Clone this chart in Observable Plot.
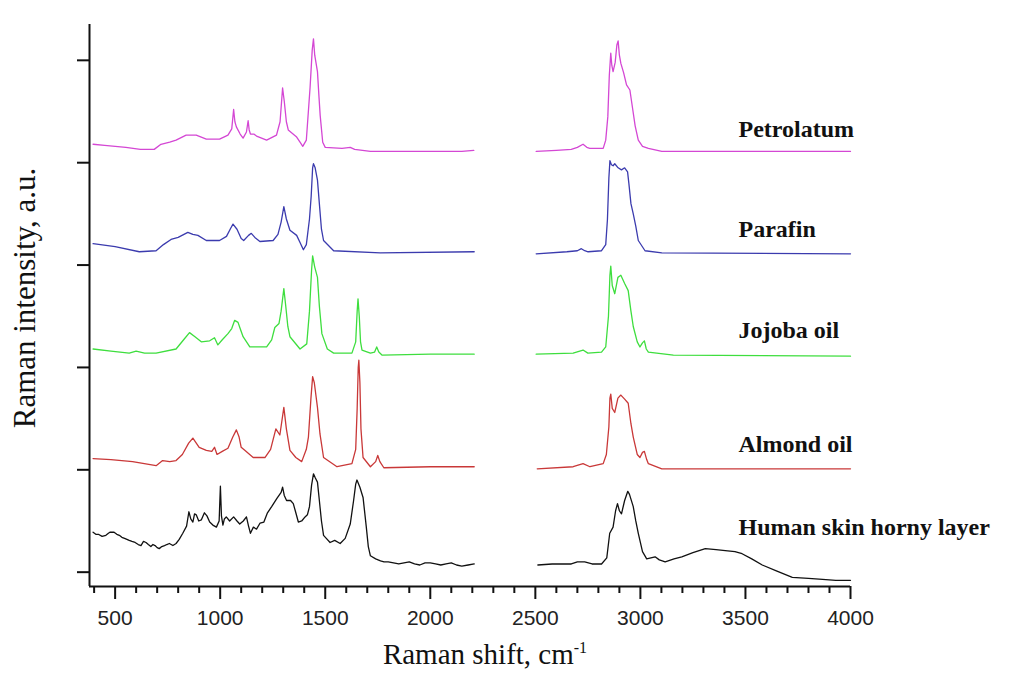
<!DOCTYPE html>
<html><head><meta charset="utf-8">
<script src="https://cdn.jsdelivr.net/npm/d3@7"></script>
<script src="https://cdn.jsdelivr.net/npm/@observablehq/plot@0.6"></script>
<style>body{margin:0;background:#fff}</style>
</head><body><div id="chart"></div>
<script>
// Raman shift (cm-1), intensity (a.u., stacked)
const petrolatum = [[395,4.18],[450,4.17],[551,4.15],[620,4.13],[686,4.13],[718,4.18],[760,4.20],[790,4.22],[838,4.27],[886,4.27],[910,4.25],[934,4.23],[997,4.23],[1037,4.27],[1055,4.33],[1064,4.52],[1070,4.40],[1077,4.35],[1095,4.28],[1109,4.24],[1125,4.30],[1133,4.41],[1138,4.32],[1144,4.28],[1160,4.28],[1173,4.26],[1221,4.22],[1268,4.27],[1285,4.40],[1297,4.73],[1305,4.60],[1315,4.40],[1324,4.32],[1364,4.25],[1380,4.20],[1393,4.16],[1410,4.22],[1428,4.74],[1438,5.10],[1444,5.21],[1450,5.05],[1463,4.89],[1470,4.65],[1476,4.46],[1488,4.20],[1500,4.15],[1580,4.14],[1619,4.15],[1640,4.13],[1715,4.11],[2112,4.11],[2150,4.11],[2207,4.12],
  [2504,4.11],[2600,4.12],[2671,4.13],[2700,4.15],[2727,4.18],[2745,4.15],[2759,4.14],[2823,4.14],[2835,4.22],[2845,4.45],[2852,4.85],[2859,5.07],[2864,4.95],[2870,4.89],[2880,4.98],[2888,5.15],[2894,5.19],[2900,5.05],[2907,4.97],[2920,4.88],[2934,4.76],[2950,4.71],[2965,4.50],[2975,4.36],[2990,4.22],[3010,4.16],[3038,4.14],[3102,4.11],[4000,4.11]];
const parafin = [[395,3.21],[500,3.18],[615,3.13],[695,3.14],[730,3.20],[766,3.25],[800,3.27],[846,3.32],[870,3.30],[894,3.29],[934,3.24],[997,3.24],[1030,3.28],[1050,3.36],[1061,3.40],[1080,3.35],[1100,3.26],[1112,3.24],[1135,3.29],[1148,3.31],[1165,3.27],[1189,3.23],[1252,3.24],[1275,3.30],[1290,3.42],[1303,3.57],[1315,3.45],[1332,3.34],[1364,3.29],[1380,3.22],[1396,3.15],[1410,3.20],[1425,3.45],[1433,3.67],[1440,3.95],[1444,3.99],[1452,3.95],[1463,3.83],[1472,3.60],[1482,3.35],[1492,3.24],[1540,3.14],[1762,3.12],[2209,3.13],
  [2504,3.11],[2650,3.13],[2700,3.14],[2719,3.16],[2735,3.14],[2751,3.13],[2815,3.14],[2835,3.20],[2843,3.44],[2850,3.85],[2855,4.02],[2862,3.98],[2870,3.97],[2878,3.99],[2894,3.95],[2910,3.93],[2925,3.95],[2939,3.91],[2945,3.80],[2955,3.60],[2966,3.50],[2978,3.38],[2990,3.24],[3022,3.14],[3102,3.12],[4000,3.11]];
const jojoba = [[395,2.18],[480,2.16],[567,2.14],[600,2.16],[640,2.14],[695,2.14],[790,2.18],[830,2.28],[854,2.34],[880,2.30],[910,2.25],[950,2.26],[973,2.29],[989,2.22],[1010,2.27],[1037,2.33],[1055,2.38],[1069,2.46],[1085,2.44],[1095,2.38],[1109,2.30],[1141,2.20],[1221,2.20],[1245,2.27],[1260,2.39],[1280,2.43],[1290,2.55],[1303,2.77],[1312,2.60],[1322,2.40],[1332,2.30],[1380,2.18],[1412,2.23],[1425,2.55],[1435,2.95],[1440,3.09],[1450,2.98],[1463,2.88],[1472,2.60],[1484,2.33],[1510,2.18],[1540,2.14],[1627,2.14],[1645,2.25],[1652,2.55],[1656,2.67],[1662,2.50],[1668,2.25],[1675,2.17],[1715,2.14],[1735,2.15],[1745,2.20],[1755,2.15],[1771,2.12],[2000,2.13],[2209,2.13],
  [2504,2.13],[2680,2.14],[2727,2.17],[2750,2.14],[2815,2.15],[2835,2.20],[2848,2.50],[2855,2.90],[2859,2.99],[2866,2.80],[2878,2.72],[2893,2.88],[2907,2.90],[2925,2.82],[2942,2.75],[2955,2.55],[2966,2.40],[2985,2.25],[2998,2.20],[3010,2.24],[3019,2.26],[3028,2.18],[3038,2.15],[3157,2.12],[4000,2.11]];
const almond = [[395,1.11],[480,1.10],[583,1.08],[695,1.04],[726,1.09],[760,1.08],[790,1.09],[820,1.15],[850,1.26],[870,1.31],[900,1.22],[934,1.19],[960,1.18],[973,1.22],[985,1.15],[1010,1.18],[1037,1.21],[1060,1.32],[1077,1.39],[1090,1.32],[1100,1.22],[1117,1.19],[1157,1.12],[1213,1.12],[1240,1.20],[1265,1.40],[1284,1.34],[1303,1.61],[1315,1.40],[1332,1.19],[1360,1.12],[1388,1.08],[1410,1.20],[1420,1.32],[1432,1.70],[1440,1.91],[1448,1.85],[1463,1.61],[1475,1.35],[1492,1.12],[1556,1.03],[1627,1.06],[1645,1.20],[1652,1.60],[1657,2.00],[1660,2.07],[1665,1.85],[1670,1.40],[1680,1.12],[1715,1.03],[1740,1.08],[1750,1.14],[1760,1.08],[1779,1.02],[2000,1.03],[2209,1.03],
  [2509,1.01],[2680,1.03],[2727,1.06],[2760,1.03],[2823,1.06],[2838,1.15],[2850,1.42],[2855,1.70],[2859,1.74],[2866,1.60],[2878,1.56],[2893,1.70],[2907,1.73],[2925,1.69],[2942,1.65],[2955,1.45],[2966,1.32],[2985,1.15],[2998,1.12],[3010,1.17],[3019,1.18],[3030,1.10],[3038,1.06],[3102,1.01],[4000,1.01]];
const humanSkin = [[395,0.39],[408,0.37],[420,0.37],[438,0.35],[456,0.36],[468,0.38],[475,0.39],[495,0.39],[508,0.37],[520,0.36],[532,0.34],[545,0.33],[556,0.32],[567,0.31],[580,0.30],[595,0.29],[610,0.27],[623,0.26],[635,0.30],[647,0.29],[658,0.27],[670,0.25],[680,0.27],[690,0.26],[700,0.24],[710,0.23],[722,0.25],[735,0.26],[746,0.27],[758,0.28],[775,0.26],[790,0.28],[805,0.32],[822,0.38],[840,0.45],[851,0.59],[860,0.52],[870,0.49],[878,0.57],[886,0.56],[898,0.50],[910,0.51],[925,0.58],[937,0.55],[950,0.49],[965,0.46],[982,0.44],[995,0.50],[1001,0.84],[1006,0.55],[1013,0.46],[1020,0.52],[1029,0.54],[1045,0.50],[1064,0.54],[1080,0.50],[1093,0.47],[1110,0.50],[1125,0.54],[1135,0.45],[1144,0.38],[1158,0.44],[1173,0.42],[1190,0.48],[1208,0.49],[1225,0.58],[1245,0.64],[1270,0.72],[1290,0.78],[1297,0.83],[1305,0.75],[1316,0.70],[1335,0.70],[1348,0.67],[1360,0.58],[1372,0.49],[1388,0.50],[1404,0.54],[1415,0.56],[1425,0.64],[1435,0.85],[1444,0.96],[1453,0.92],[1463,0.88],[1472,0.70],[1482,0.50],[1492,0.36],[1505,0.33],[1523,0.29],[1545,0.31],[1571,0.28],[1595,0.33],[1619,0.47],[1635,0.70],[1645,0.86],[1651,0.90],[1665,0.83],[1680,0.73],[1695,0.45],[1705,0.25],[1715,0.16],[1740,0.13],[1763,0.11],[1780,0.10],[1800,0.10],[1825,0.09],[1850,0.08],[1875,0.09],[1900,0.10],[1925,0.08],[1950,0.07],[1975,0.09],[2000,0.09],[2025,0.08],[2050,0.07],[2075,0.08],[2100,0.09],[2125,0.07],[2150,0.06],[2180,0.07],[2209,0.08],
  [2512,0.07],[2580,0.08],[2671,0.08],[2700,0.10],[2735,0.10],[2770,0.08],[2815,0.08],[2840,0.14],[2854,0.38],[2870,0.44],[2882,0.60],[2891,0.67],[2900,0.60],[2910,0.57],[2925,0.70],[2940,0.79],[2948,0.76],[2966,0.64],[2978,0.50],[2990,0.38],[3010,0.20],[3030,0.13],[3050,0.14],[3070,0.15],[3090,0.12],[3118,0.10],[3160,0.13],[3197,0.15],[3250,0.19],[3309,0.23],[3360,0.22],[3404,0.21],[3450,0.20],[3484,0.18],[3530,0.13],[3580,0.07],[3650,0.01],[3723,-0.05],[3800,-0.06],[3867,-0.07],[3930,-0.08],[4000,-0.08]];

const seriesNames = ["Petrolatum", "Parafin", "Jojoba oil", "Almond oil", "Human skin horny layer"];
const seriesData = [petrolatum, parafin, jojoba, almond, humanSkin];
const seriesColors = ["#d447d4", "#3b3bae", "#3ede3e", "#c93838", "#111111"];
const labelX = 3467;
const labelY = [4.25, 3.27, 2.29, 1.17, 0.36];
const xMajorTicks = [500, 1000, 1500, 2000, 2500, 3000, 3500, 4000];
const xMinorTicks = d3.range(400, 4001, 100).filter(v => v % 500 !== 0);
const yTicks = [0, 1, 2, 3, 4, 5];

const rows = [];
seriesData.forEach((pts, i) => pts.forEach(([x, y]) => rows.push({series: seriesNames[i], seg: seriesNames[i] + (x < 2350 ? "-a" : "-b"), x, y})));
const labels = seriesNames.map((name, i) => ({name, x: labelX, y: labelY[i]}));

const chart = Plot.plot({
  width: 1022, height: 692,
  marginLeft: 89, marginRight: 172, marginTop: 24, marginBottom: 106,
  x: {domain: [378, 4000]},
  y: {domain: [-0.14, 5.35]},
  style: {background: "#fff", fontFamily: "'Liberation Sans', Arial, sans-serif", fontSize: "21px", color: "#111"},
  marks: [
    Plot.axisY({ticks: yTicks, tickSize: 12, tickFormat: () => "", label: null, strokeWidth: 2, stroke: "#111"}),
    Plot.axisX({ticks: xMinorTicks, tickSize: 7, tickFormat: () => "", label: null, strokeWidth: 2, stroke: "#111"}),
    Plot.axisX({ticks: xMajorTicks, tickSize: 13, tickPadding: 11, tickFormat: d => String(d), label: null, strokeWidth: 2, stroke: "#111", fill: "#222"}),
    Plot.ruleX([378], {stroke: "#111", strokeWidth: 2}),
    Plot.ruleY([-0.14], {stroke: "#111", strokeWidth: 2}),
    ...seriesNames.map((name, i) => Plot.line(rows.filter(r => r.series === name), {x: "x", y: "y", z: "seg", stroke: seriesColors[i], strokeWidth: 1.3})),
    Plot.text(labels, {x: "x", y: "y", text: "name", textAnchor: "start", lineAnchor: "bottom", fontFamily: "'Liberation Serif', 'Times New Roman', serif", fontWeight: "bold", fontSize: 24, fill: "#111"})
  ]
});

const svg = d3.select(chart);
const xl = svg.append("text")
  .attr("x", 485).attr("y", 664).attr("text-anchor", "middle")
  .style("font-family", "'Liberation Serif', 'Times New Roman', serif").style("font-size", "29px").attr("fill", "#111");
xl.append("tspan").text("Raman shift, cm");
xl.append("tspan").attr("dy", "-11").style("font-size", "16px").text("-1");
svg.append("text")
  .attr("transform", "translate(35,298) rotate(-90)").attr("text-anchor", "middle")
  .style("font-family", "'Liberation Serif', 'Times New Roman', serif").style("font-size", "31px").attr("fill", "#111")
  .text("Raman intensity, a.u.");

document.getElementById("chart").appendChild(chart);
</script>
</body></html>
